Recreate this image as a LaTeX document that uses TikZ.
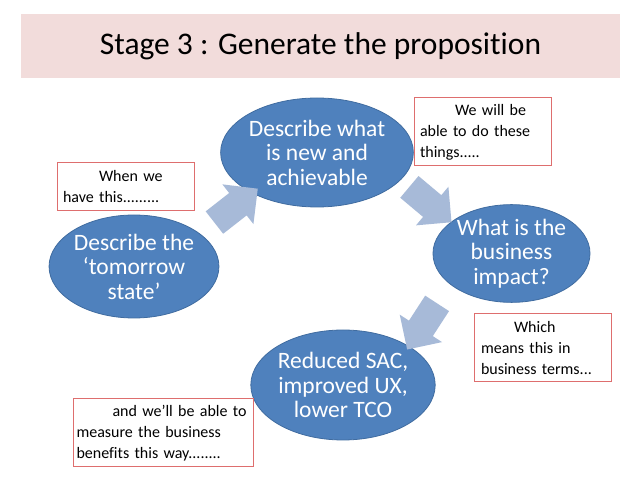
\documentclass[tikz,border=0pt]{standalone}
\usepackage{fontspec}
\setmainfont{Carlito}[Ligatures=NoCommon]
\usetikzlibrary{shapes.geometric,shapes.arrows}
\definecolor{bandpink}{RGB}{242,220,219}
\definecolor{ellblue}{RGB}{79,129,189}
\definecolor{elledge}{RGB}{64,108,160}
\definecolor{arrowblue}{RGB}{167,186,216}
\definecolor{boxred}{RGB}{222,110,110}
\tikzset{
  bubble/.style={ellipse, fill=ellblue, draw=elledge, line width=0.8pt, inner sep=0pt,
    text=white, align=center, font=\fontsize{23.5}{24.5}\selectfont},
  note/.style={rectangle, draw=boxred, line width=1pt, fill=white, align=left,
    inner xsep=6pt, inner ysep=0pt, font=\fontsize{16}{21}\selectfont},
  blockarrow/.style={single arrow, fill=arrowblue, draw=none, inner sep=14pt,
    minimum width=50pt, minimum height=55pt, single arrow head extend=11pt}
}
\begin{document}
\begin{tikzpicture}[x=1pt,y=-1pt]
\useasboundingbox[fill=white] (0,0) rectangle (638,478);
\node[fill=bandpink, minimum width=599pt, minimum height=64pt, inner sep=0pt,
  font=\fontsize{31.5}{36}\selectfont] (title) at (320.5,46) {Stage 3 : Generate the proposition};

\node[bubble, minimum width=162pt, minimum height=103pt] (e1) at (134,266.5)
  {Describe the\\‘tomorrow\\state’};
\node[bubble, minimum width=176pt, minimum height=109pt] (e2) at (317,152.5)
  {Describe what\\is new and\\achievable};
\node[bubble, minimum width=157pt, minimum height=97pt] (e3) at (511.5,253.5)
  {What is the\\business\\impact?};
\node[bubble, minimum width=166pt, minimum height=110pt] (e4) at (343,385)
  {Reduced SAC,\\improved UX,\\lower TCO};

\node[blockarrow, rotate=38] (a1) at (230.5,210) {};
\node[blockarrow, rotate=-40] (a2) at (425,200) {};
\node[blockarrow, rotate=237] (a3) at (426,320.5) {};

\node[note, text width=125pt, minimum height=48pt] (n1) at (125.5,187)
  {\hspace*{36pt}When we\\have this.........};
\node[note, text width=125pt, minimum height=68pt] (n2) at (482.5,132)
  {\hspace*{35pt}We will be\\able to do these\\things.....};
\node[note, text width=123pt, minimum height=68pt, inner xsep=7pt] (n3) at (542.5,348)
  {\hspace*{33pt}Which\\means this in\\business terms...};
\node[note, text width=173pt, minimum height=68pt, inner xsep=3.5pt] (n4) at (163,433)
  {\hspace*{36pt}and we’ll be able to\\measure the business\\benefits this way........};
\end{tikzpicture}
\end{document}
